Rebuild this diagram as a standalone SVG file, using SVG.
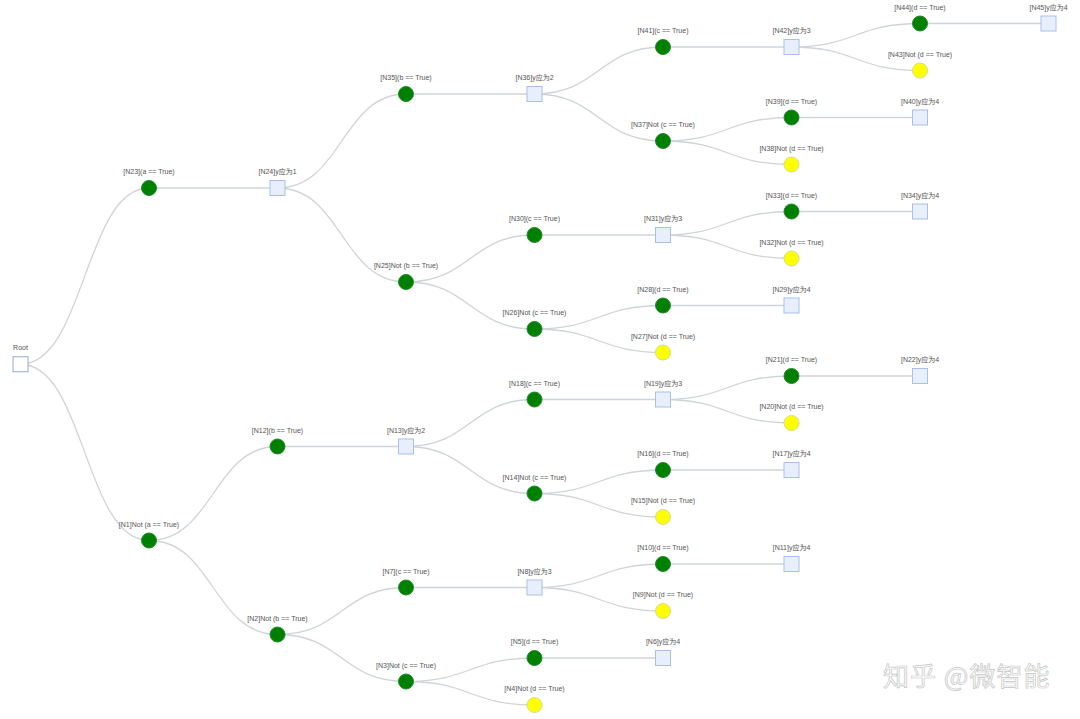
<svg xmlns="http://www.w3.org/2000/svg" width="1080" height="719" viewBox="0 0 1080 719">
<style>
text{font-family:"Liberation Sans","Noto Sans CJK SC",sans-serif;font-size:7px;fill:#555;text-anchor:middle}
.lk{fill:none;stroke:#cfd4d8;stroke-width:1.3}
.g{fill:#008000;stroke:#1f8a2a;stroke-width:1}
.y{fill:#ffff00;stroke:#d9d98a;stroke-width:1}
.s{fill:#e8effc;stroke:#a9bfe8;stroke-width:1}
.r{fill:#ffffff;stroke:#8eaadb;stroke-width:1}
.wm{font-family:"Noto Sans CJK SC",sans-serif;font-size:26px;fill:#ffffff;stroke:#c4c4c4;stroke-width:0.7;text-anchor:start;letter-spacing:1px}
</style>
<rect width="1080" height="719" fill="#ffffff"/>
<g id="links" class="lk">
<path d="M20.5 364.25C84.75 364.25 84.75 188 149 188"/>
<path d="M20.5 364.25C84.75 364.25 84.75 540.5 149 540.5"/>
<path d="M149 188H277.5"/>
<path d="M277.5 188C341.75 188 341.75 94 406 94"/>
<path d="M277.5 188C341.75 188 341.75 282 406 282"/>
<path d="M406 94H534.5"/>
<path d="M534.5 94C598.75 94 598.75 47 663 47"/>
<path d="M534.5 94C598.75 94 598.75 141 663 141"/>
<path d="M663 47H791.5"/>
<path d="M791.5 47C855.75 47 855.75 23.5 920 23.5"/>
<path d="M791.5 47C855.75 47 855.75 70.5 920 70.5"/>
<path d="M920 23.5H1048.5"/>
<path d="M663 141C727.25 141 727.25 117.5 791.5 117.5"/>
<path d="M663 141C727.25 141 727.25 164.5 791.5 164.5"/>
<path d="M791.5 117.5H920"/>
<path d="M406 282C470.25 282 470.25 235 534.5 235"/>
<path d="M406 282C470.25 282 470.25 329 534.5 329"/>
<path d="M534.5 235H663"/>
<path d="M663 235C727.25 235 727.25 211.5 791.5 211.5"/>
<path d="M663 235C727.25 235 727.25 258.5 791.5 258.5"/>
<path d="M791.5 211.5H920"/>
<path d="M534.5 329C598.75 329 598.75 305.5 663 305.5"/>
<path d="M534.5 329C598.75 329 598.75 352.5 663 352.5"/>
<path d="M663 305.5H791.5"/>
<path d="M149 540.5C213.25 540.5 213.25 446.5 277.5 446.5"/>
<path d="M149 540.5C213.25 540.5 213.25 634.5 277.5 634.5"/>
<path d="M277.5 446.5H406"/>
<path d="M406 446.5C470.25 446.5 470.25 399.5 534.5 399.5"/>
<path d="M406 446.5C470.25 446.5 470.25 493.5 534.5 493.5"/>
<path d="M534.5 399.5H663"/>
<path d="M663 399.5C727.25 399.5 727.25 376 791.5 376"/>
<path d="M663 399.5C727.25 399.5 727.25 423 791.5 423"/>
<path d="M791.5 376H920"/>
<path d="M534.5 493.5C598.75 493.5 598.75 470 663 470"/>
<path d="M534.5 493.5C598.75 493.5 598.75 517 663 517"/>
<path d="M663 470H791.5"/>
<path d="M277.5 634.5C341.75 634.5 341.75 587.5 406 587.5"/>
<path d="M277.5 634.5C341.75 634.5 341.75 681.5 406 681.5"/>
<path d="M406 587.5H534.5"/>
<path d="M534.5 587.5C598.75 587.5 598.75 564 663 564"/>
<path d="M534.5 587.5C598.75 587.5 598.75 611 663 611"/>
<path d="M663 564H791.5"/>
<path d="M406 681.5C470.25 681.5 470.25 658 534.5 658"/>
<path d="M406 681.5C470.25 681.5 470.25 705 534.5 705"/>
<path d="M534.5 658H663"/>
</g>
<g id="Root" transform="translate(20.5,364.25)"><rect class="r" x="-7.5" y="-7.5" width="15" height="15"/><text y="-14">Root</text></g>
<g id="N23" transform="translate(149,188)"><circle class="g" r="7.5"/><text y="-14">[N23](a == True)</text></g>
<g id="N24" transform="translate(277.5,188)"><rect class="s" x="-7.5" y="-7.5" width="15" height="15"/><text y="-14">[N24]y应为1</text></g>
<g id="N35" transform="translate(406,94)"><circle class="g" r="7.5"/><text y="-14">[N35](b == True)</text></g>
<g id="N36" transform="translate(534.5,94)"><rect class="s" x="-7.5" y="-7.5" width="15" height="15"/><text y="-14">[N36]y应为2</text></g>
<g id="N41" transform="translate(663,47)"><circle class="g" r="7.5"/><text y="-14">[N41](c == True)</text></g>
<g id="N42" transform="translate(791.5,47)"><rect class="s" x="-7.5" y="-7.5" width="15" height="15"/><text y="-14">[N42]y应为3</text></g>
<g id="N44" transform="translate(920,23.5)"><circle class="g" r="7.5"/><text y="-14">[N44](d == True)</text></g>
<g id="N45" transform="translate(1048.5,23.5)"><rect class="s" x="-7.5" y="-7.5" width="15" height="15"/><text y="-14">[N45]y应为4</text></g>
<g id="N43" transform="translate(920,70.5)"><circle class="y" r="7.5"/><text y="-14">[N43]Not (d == True)</text></g>
<g id="N37" transform="translate(663,141)"><circle class="g" r="7.5"/><text y="-14">[N37]Not (c == True)</text></g>
<g id="N39" transform="translate(791.5,117.5)"><circle class="g" r="7.5"/><text y="-14">[N39](d == True)</text></g>
<g id="N40" transform="translate(920,117.5)"><rect class="s" x="-7.5" y="-7.5" width="15" height="15"/><text y="-14">[N40]y应为4</text></g>
<g id="N38" transform="translate(791.5,164.5)"><circle class="y" r="7.5"/><text y="-14">[N38]Not (d == True)</text></g>
<g id="N25" transform="translate(406,282)"><circle class="g" r="7.5"/><text y="-14">[N25]Not (b == True)</text></g>
<g id="N30" transform="translate(534.5,235)"><circle class="g" r="7.5"/><text y="-14">[N30](c == True)</text></g>
<g id="N31" transform="translate(663,235)"><rect class="s" x="-7.5" y="-7.5" width="15" height="15"/><text y="-14">[N31]y应为3</text></g>
<g id="N33" transform="translate(791.5,211.5)"><circle class="g" r="7.5"/><text y="-14">[N33](d == True)</text></g>
<g id="N34" transform="translate(920,211.5)"><rect class="s" x="-7.5" y="-7.5" width="15" height="15"/><text y="-14">[N34]y应为4</text></g>
<g id="N32" transform="translate(791.5,258.5)"><circle class="y" r="7.5"/><text y="-14">[N32]Not (d == True)</text></g>
<g id="N26" transform="translate(534.5,329)"><circle class="g" r="7.5"/><text y="-14">[N26]Not (c == True)</text></g>
<g id="N28" transform="translate(663,305.5)"><circle class="g" r="7.5"/><text y="-14">[N28](d == True)</text></g>
<g id="N29" transform="translate(791.5,305.5)"><rect class="s" x="-7.5" y="-7.5" width="15" height="15"/><text y="-14">[N29]y应为4</text></g>
<g id="N27" transform="translate(663,352.5)"><circle class="y" r="7.5"/><text y="-14">[N27]Not (d == True)</text></g>
<g id="N1" transform="translate(149,540.5)"><circle class="g" r="7.5"/><text y="-14">[N1]Not (a == True)</text></g>
<g id="N12" transform="translate(277.5,446.5)"><circle class="g" r="7.5"/><text y="-14">[N12](b == True)</text></g>
<g id="N13" transform="translate(406,446.5)"><rect class="s" x="-7.5" y="-7.5" width="15" height="15"/><text y="-14">[N13]y应为2</text></g>
<g id="N18" transform="translate(534.5,399.5)"><circle class="g" r="7.5"/><text y="-14">[N18](c == True)</text></g>
<g id="N19" transform="translate(663,399.5)"><rect class="s" x="-7.5" y="-7.5" width="15" height="15"/><text y="-14">[N19]y应为3</text></g>
<g id="N21" transform="translate(791.5,376)"><circle class="g" r="7.5"/><text y="-14">[N21](d == True)</text></g>
<g id="N22" transform="translate(920,376)"><rect class="s" x="-7.5" y="-7.5" width="15" height="15"/><text y="-14">[N22]y应为4</text></g>
<g id="N20" transform="translate(791.5,423)"><circle class="y" r="7.5"/><text y="-14">[N20]Not (d == True)</text></g>
<g id="N14" transform="translate(534.5,493.5)"><circle class="g" r="7.5"/><text y="-14">[N14]Not (c == True)</text></g>
<g id="N16" transform="translate(663,470)"><circle class="g" r="7.5"/><text y="-14">[N16](d == True)</text></g>
<g id="N17" transform="translate(791.5,470)"><rect class="s" x="-7.5" y="-7.5" width="15" height="15"/><text y="-14">[N17]y应为4</text></g>
<g id="N15" transform="translate(663,517)"><circle class="y" r="7.5"/><text y="-14">[N15]Not (d == True)</text></g>
<g id="N2" transform="translate(277.5,634.5)"><circle class="g" r="7.5"/><text y="-14">[N2]Not (b == True)</text></g>
<g id="N7" transform="translate(406,587.5)"><circle class="g" r="7.5"/><text y="-14">[N7](c == True)</text></g>
<g id="N8" transform="translate(534.5,587.5)"><rect class="s" x="-7.5" y="-7.5" width="15" height="15"/><text y="-14">[N8]y应为3</text></g>
<g id="N10" transform="translate(663,564)"><circle class="g" r="7.5"/><text y="-14">[N10](d == True)</text></g>
<g id="N11" transform="translate(791.5,564)"><rect class="s" x="-7.5" y="-7.5" width="15" height="15"/><text y="-14">[N11]y应为4</text></g>
<g id="N9" transform="translate(663,611)"><circle class="y" r="7.5"/><text y="-14">[N9]Not (d == True)</text></g>
<g id="N3" transform="translate(406,681.5)"><circle class="g" r="7.5"/><text y="-14">[N3]Not (c == True)</text></g>
<g id="N5" transform="translate(534.5,658)"><circle class="g" r="7.5"/><text y="-14">[N5](d == True)</text></g>
<g id="N6" transform="translate(663,658)"><rect class="s" x="-7.5" y="-7.5" width="15" height="15"/><text y="-14">[N6]y应为4</text></g>
<g id="N4" transform="translate(534.5,705)"><circle class="y" r="7.5"/><text y="-14">[N4]Not (d == True)</text></g>
<text class="wm" x="883" y="686">知乎 @微智能</text>
</svg>
